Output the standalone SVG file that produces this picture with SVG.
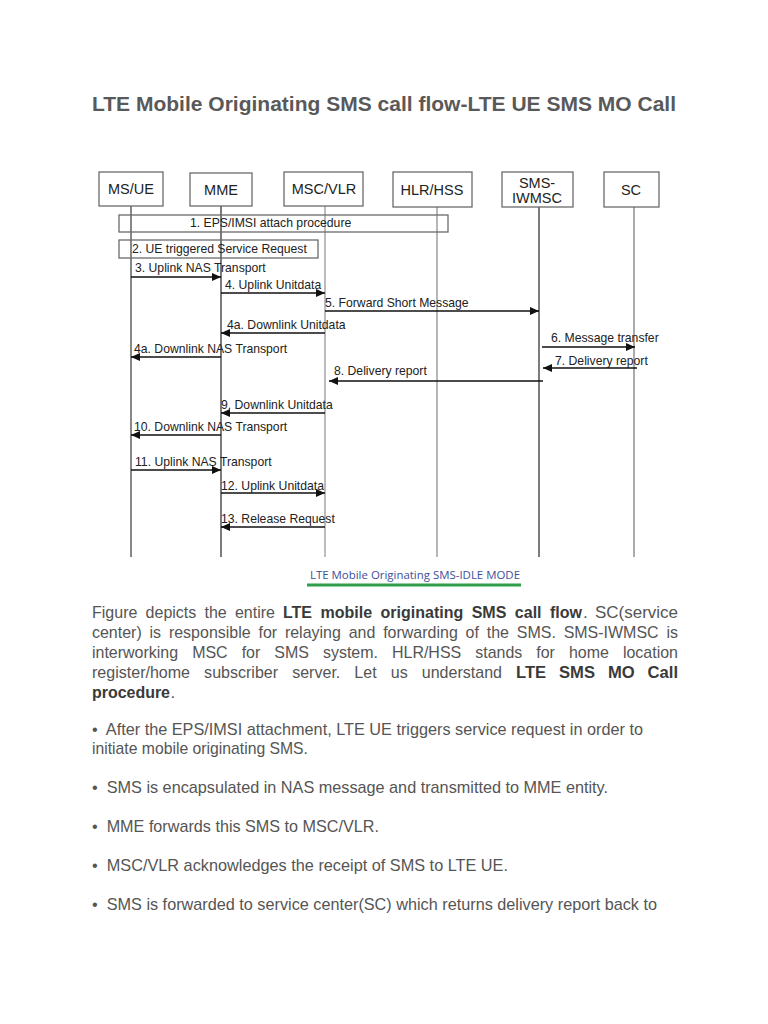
<svg xmlns="http://www.w3.org/2000/svg" width="768" height="1024" viewBox="0 0 768 1024">
<style>
.title{font-family:"Liberation Sans",Arial,sans-serif;font-weight:bold;font-size:21px;fill:#595959}
.box{fill:#fff;stroke:#6a6a6a;stroke-width:1.3}
.frame{fill:none;stroke:#6a6a6a;stroke-width:1.3}
.nt{font-family:"Liberation Sans",Arial,sans-serif;font-size:14.5px;fill:#222;text-anchor:middle}
.lb{font-family:"Liberation Sans",Arial,sans-serif;font-size:12.2px;fill:#222}
.life{stroke-width:1.4}
.msg{stroke:#111;stroke-width:1.7;fill:none;marker-end:url(#ah)}
.body{font-family:"Liberation Sans",Arial,sans-serif;font-size:17px;fill:#555}
.b{font-weight:bold;fill:#3a3a3a}
.bs{font-size:16px}
.cap{font-family:"Open Sans","Liberation Sans",sans-serif;font-size:11.5px;fill:#3d4f9a}
</style>
<defs>
<marker id="ah" markerUnits="userSpaceOnUse" markerWidth="10" markerHeight="8" refX="9" refY="4" orient="auto">
<path d="M0,0 L9,4 L0,8 z" fill="#111"/>
</marker>
</defs>
<rect width="768" height="1024" fill="#fff"/>
<text class="title" x="92" y="111" textLength="584" lengthAdjust="spacingAndGlyphs">LTE Mobile Originating SMS call flow-LTE UE SMS MO Call</text>

<g id="lifelines">
<line class="life" x1="131" y1="206" x2="131" y2="557" stroke="#555"/>
<line class="life" x1="221" y1="206" x2="221" y2="557" stroke="#444"/>
<line class="life" x1="325" y1="206" x2="325" y2="557" stroke="#a0a0a0"/>
<line class="life" x1="437" y1="207" x2="437" y2="557" stroke="#999"/>
<line class="life" x1="539" y1="207" x2="539" y2="557" stroke="#444"/>
<line class="life" x1="634" y1="207" x2="634" y2="557" stroke="#888"/>
</g>

<g id="node-msue"><rect class="box" x="99" y="172" width="64" height="34"/><text class="nt" x="131" y="194">MS/UE</text></g>
<g id="node-mme"><rect class="box" x="190" y="173" width="62" height="33"/><text class="nt" x="221" y="195">MME</text></g>
<g id="node-mscvlr"><rect class="box" x="284" y="172" width="79" height="34"/><text class="nt" x="324" y="194">MSC/VLR</text></g>
<g id="node-hlrhss"><rect class="box" x="393" y="172" width="79" height="35"/><text class="nt" x="432" y="195">HLR/HSS</text></g>
<g id="node-smsiwmsc"><rect class="box" x="502" y="172" width="71" height="35"/><text class="nt" x="537" y="188">SMS-</text><text class="nt" x="537" y="203">IWMSC</text></g>
<g id="node-sc"><rect class="box" x="604" y="172" width="55" height="35"/><text class="nt" x="631" y="195">SC</text></g>

<g id="frame-attach"><rect class="frame" x="119" y="215" width="329" height="17"/><text class="lb" x="190" y="227">1. EPS/IMSI attach procedure</text></g>
<g id="frame-service"><rect class="frame" x="119" y="240" width="199" height="18"/><text class="lb" x="132" y="253">2. UE triggered Service Request</text></g>

<g id="connectors">
<line class="msg" x1="131" y1="277" x2="221" y2="277"/>
<line class="msg" x1="221" y1="293" x2="325" y2="293"/>
<line class="msg" x1="325" y1="311" x2="539" y2="311"/>
<line class="msg" x1="325" y1="333" x2="221" y2="333"/>
<line class="msg" x1="221" y1="357" x2="131" y2="357"/>
<line class="msg" x1="542" y1="347" x2="635" y2="347"/>
<line class="msg" x1="637" y1="368" x2="543" y2="368"/>
<line class="msg" x1="543" y1="381" x2="329" y2="381"/>
<line class="msg" x1="325" y1="413" x2="221" y2="413"/>
<line class="msg" x1="221" y1="435" x2="131" y2="435"/>
<line class="msg" x1="131" y1="470" x2="221" y2="470"/>
<line class="msg" x1="221" y1="493" x2="325" y2="493"/>
<line class="msg" x1="325" y1="527" x2="221" y2="527"/>
</g>

<g id="labels">
<text class="lb" x="135" y="272">3. Uplink NAS Transport</text>
<text class="lb" x="225" y="289">4. Uplink Unitdata</text>
<text class="lb" x="325" y="307">5. Forward Short Message</text>
<text class="lb" x="227" y="329">4a. Downlink Unitdata</text>
<text class="lb" x="134" y="353">4a. Downlink NAS Transport</text>
<text class="lb" x="551" y="342">6. Message transfer</text>
<text class="lb" x="555" y="365">7. Delivery report</text>
<text class="lb" x="334" y="375">8. Delivery report</text>
<text class="lb" x="221" y="409">9. Downlink Unitdata</text>
<text class="lb" x="134" y="431">10. Downlink NAS Transport</text>
<text class="lb" x="135" y="466">11. Uplink NAS Transport</text>
<text class="lb" x="221" y="490">12. Uplink Unitdata</text>
<text class="lb" x="221" y="523">13. Release Request</text>
</g>

<g id="caption">
<text class="cap" x="310" y="579" textLength="210" lengthAdjust="spacingAndGlyphs">LTE Mobile Originating SMS-IDLE MODE</text>
<line x1="307" y1="585" x2="521" y2="585" stroke="#2e9e4a" stroke-width="3"/>
</g>

<g id="body">
<text class="body" x="92" y="618" textLength="183" lengthAdjust="spacingAndGlyphs" word-spacing="4">Figure depicts the entire</text>
<text class="body b bs" x="283" y="618" textLength="299" lengthAdjust="spacingAndGlyphs" word-spacing="4">LTE mobile originating SMS call flow</text>
<text class="body" x="583" y="618">.</text>
<text class="body" x="595" y="618" textLength="83" lengthAdjust="spacingAndGlyphs">SC(service</text>
<text class="body" x="92" y="638" textLength="586" lengthAdjust="spacingAndGlyphs" word-spacing="3.6">center) is responsible for relaying and forwarding of the SMS. SMS-IWMSC is</text>
<text class="body" x="92" y="658" textLength="586" lengthAdjust="spacingAndGlyphs" word-spacing="10.2">interworking MSC for SMS system. HLR/HSS stands for home location</text>
<text class="body" x="92" y="678" textLength="410" lengthAdjust="spacingAndGlyphs" word-spacing="10.2">register/home subscriber server. Let us understand</text>
<text class="body b bs" x="516" y="678" textLength="162" lengthAdjust="spacingAndGlyphs" word-spacing="8">LTE SMS MO Call</text>
<text class="body b bs" x="92" y="698" textLength="78" lengthAdjust="spacingAndGlyphs">procedure</text>
<text class="body" x="170.5" y="698">.</text>

<text class="body" x="92" y="735" textLength="551" lengthAdjust="spacingAndGlyphs">•&#160; After the EPS/IMSI attachment, LTE UE triggers service request in order to</text>
<text class="body" x="92" y="754" textLength="216" lengthAdjust="spacingAndGlyphs">initiate mobile originating SMS.</text>
<text class="body" x="92" y="793" textLength="516" lengthAdjust="spacingAndGlyphs">•&#160; SMS is encapsulated in NAS message and transmitted to MME entity.</text>
<text class="body" x="92" y="832" textLength="287" lengthAdjust="spacingAndGlyphs">•&#160; MME forwards this SMS to MSC/VLR.</text>
<text class="body" x="92" y="871" textLength="416" lengthAdjust="spacingAndGlyphs">•&#160; MSC/VLR acknowledges the receipt of SMS to LTE UE.</text>
<text class="body" x="92" y="910" textLength="565" lengthAdjust="spacingAndGlyphs">•&#160; SMS is forwarded to service center(SC) which returns delivery report back to</text>
</g>
</svg>
